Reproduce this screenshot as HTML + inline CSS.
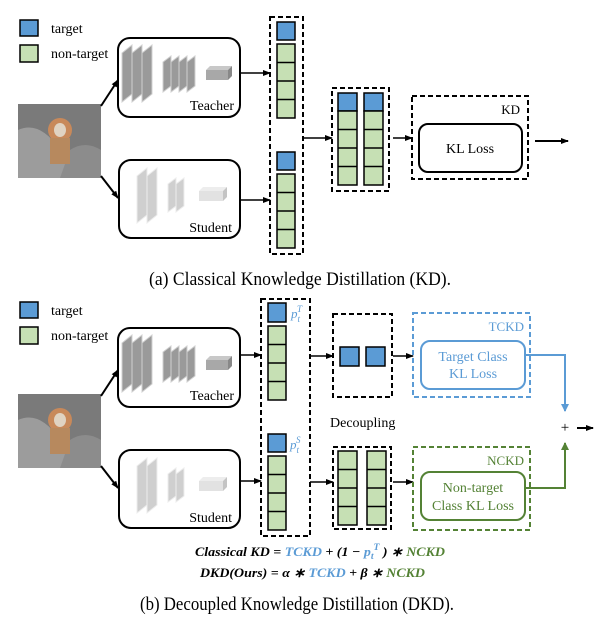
<!DOCTYPE html>
<html><head><meta charset="utf-8"><style>
html,body{margin:0;padding:0;background:#fff}
svg{display:block}
text{font-family:"Liberation Serif",serif}
</style></head><body>
<svg width="600" height="626" viewBox="0 0 600 626" xmlns="http://www.w3.org/2000/svg">
<defs>
<marker id="ah" markerWidth="8" markerHeight="6" refX="7" refY="3" orient="auto" markerUnits="userSpaceOnUse"><path d="M0,0 L8,3 L0,6 Z" fill="#000"/></marker>
<marker id="ab" markerWidth="8" markerHeight="8" refX="7" refY="4" orient="auto" markerUnits="userSpaceOnUse"><path d="M0,0 L8,4 L0,8 Z" fill="#5b9bd5"/></marker>
<marker id="ag" markerWidth="8" markerHeight="8" refX="7" refY="4" orient="auto" markerUnits="userSpaceOnUse"><path d="M0,0 L8,4 L0,8 Z" fill="#548235"/></marker>
<g id="tnet">
<g fill="#9a9a9a" stroke="#d0d0d0" stroke-width="1">
<polygon points="122,53 132,45 132,94 122,102"/>
<polygon points="132,53 142,45 142,94 132,102"/>
<polygon points="142,53 152,45 152,94 142,102"/>
<polygon points="163,62 171,56 171,86 163,92"/>
<polygon points="171,62 179,56 179,86 171,92"/>
<polygon points="179,62 187,56 187,86 179,92"/>
<polygon points="187,62 195,56 195,86 187,92"/>
</g>
<rect x="206" y="70" width="22" height="10" fill="#a8a8a8"/>
<polygon points="206,70 210,66 232,66 228,70" fill="#c8c8c8"/>
<polygon points="228,70 232,66 232,76 228,80" fill="#888"/>
</g>
<g id="snet">
<g fill="#cfcfcf" stroke="#ececec" stroke-width="1">
<polygon points="137,176 147,168 147,215 137,223"/>
<polygon points="147,176 157,168 157,215 147,223"/>
<polygon points="168,184 176,178 176,206 168,212"/>
<polygon points="176,184 184,178 184,206 176,212"/>
</g>
<rect x="199" y="191" width="24" height="10" fill="#e2e2e2"/>
<polygon points="199,191 203,187 227,187 223,191" fill="#ededed"/>
<polygon points="223,191 227,187 227,197 223,201" fill="#c4c4c4"/>
</g>
<g id="tiger">
<rect x="18" y="104" width="83" height="74" fill="#7a7a7a"/>
<path d="M18,130 Q40,120 60,150 L101,160 L101,178 L18,178 Z" fill="#9c9c9c"/>
<path d="M70,150 Q85,140 101,150 L101,178 L60,178 Z" fill="#8c8c8c"/>
<ellipse cx="60" cy="130" rx="12" ry="12" fill="#c8895a"/>
<rect x="50" y="138" width="20" height="26" fill="#b7895e"/>
<ellipse cx="60" cy="130" rx="6" ry="7" fill="#e0d3c2"/>
</g>
<g id="legend">
<rect x="20" y="20" width="18" height="16" fill="#5b9bd5" stroke="#000" stroke-width="1.5"/>
<rect x="20" y="45" width="18" height="17" fill="#c6e0b4" stroke="#000" stroke-width="1.5"/>
<text x="51" y="33" font-size="14">target</text>
<text x="51" y="58" font-size="14">non-target</text>
</g>
</defs>

<!-- ===== (a) ===== -->
<use href="#legend"/>
<use href="#tiger"/>
<line x1="101" y1="106" x2="118" y2="80" stroke="#000" stroke-width="2" marker-end="url(#ah)"/>
<line x1="101" y1="176" x2="118" y2="198" stroke="#000" stroke-width="2" marker-end="url(#ah)"/>
<rect x="118" y="38" width="122" height="79" rx="12" fill="#fff" stroke="#000" stroke-width="2"/>
<rect x="119" y="160" width="121" height="78" rx="12" fill="#fff" stroke="#000" stroke-width="2"/>
<use href="#tnet"/>
<use href="#snet"/>
<text x="234" y="110" font-size="14" text-anchor="end">Teacher</text>
<text x="232" y="232" font-size="14" text-anchor="end">Student</text>
<line x1="240" y1="73" x2="270" y2="73" stroke="#000" stroke-width="1.5" marker-end="url(#ah)"/>
<line x1="240" y1="200" x2="270" y2="200" stroke="#000" stroke-width="1.5" marker-end="url(#ah)"/>
<rect x="270" y="17" width="33" height="237" fill="none" stroke="#000" stroke-width="2" stroke-dasharray="5,3"/>
<g stroke="#000" stroke-width="1.5">
<rect x="277" y="22" width="18" height="18" fill="#5b9bd5"/>
<rect x="277" y="44" width="18" height="74" fill="#c6e0b4"/>
<line x1="277" y1="62.5" x2="295" y2="62.5"/><line x1="277" y1="81" x2="295" y2="81"/><line x1="277" y1="99.5" x2="295" y2="99.5"/>
<rect x="277" y="152" width="18" height="18" fill="#5b9bd5"/>
<rect x="277" y="174" width="18" height="74" fill="#c6e0b4"/>
<line x1="277" y1="192.5" x2="295" y2="192.5"/><line x1="277" y1="211" x2="295" y2="211"/><line x1="277" y1="229.5" x2="295" y2="229.5"/>
</g>
<line x1="303" y1="138" x2="332" y2="138" stroke="#000" stroke-width="1.5" marker-end="url(#ah)"/>
<rect x="332" y="88" width="57" height="103" fill="none" stroke="#000" stroke-width="2" stroke-dasharray="5,3"/>
<g stroke="#000" stroke-width="1.5">
<rect x="338" y="93" width="19" height="18" fill="#5b9bd5"/>
<rect x="338" y="111" width="19" height="74" fill="#c6e0b4"/>
<line x1="338" y1="129.5" x2="357" y2="129.5"/><line x1="338" y1="148" x2="357" y2="148"/><line x1="338" y1="166.5" x2="357" y2="166.5"/>
<rect x="364" y="93" width="19" height="18" fill="#5b9bd5"/>
<rect x="364" y="111" width="19" height="74" fill="#c6e0b4"/>
<line x1="364" y1="129.5" x2="383" y2="129.5"/><line x1="364" y1="148" x2="383" y2="148"/><line x1="364" y1="166.5" x2="383" y2="166.5"/>
</g>
<line x1="393" y1="138" x2="412" y2="138" stroke="#000" stroke-width="1.5" marker-end="url(#ah)"/>
<rect x="412" y="96" width="116" height="83" fill="none" stroke="#000" stroke-width="2" stroke-dasharray="5,3"/>
<text x="520" y="114" font-size="13" text-anchor="end">KD</text>
<rect x="419" y="124" width="103" height="48" rx="9" fill="#fff" stroke="#000" stroke-width="2"/>
<text x="470" y="153" font-size="14" text-anchor="middle">KL Loss</text>
<line x1="535" y1="141" x2="568" y2="141" stroke="#000" stroke-width="2" marker-end="url(#ah)"/>
<text x="300" y="285" font-size="19" text-anchor="middle" textLength="302" lengthAdjust="spacingAndGlyphs">(a) Classical Knowledge Distillation (KD).</text>

<!-- ===== (b) ===== -->
<g transform="translate(0,282)">
<use href="#legend"/>
</g>
<g transform="translate(0,290)">
<use href="#tiger"/>
<line x1="101" y1="106" x2="118" y2="80" stroke="#000" stroke-width="2" marker-end="url(#ah)"/>
<line x1="101" y1="176" x2="118" y2="198" stroke="#000" stroke-width="2" marker-end="url(#ah)"/>
<rect x="118" y="38" width="122" height="79" rx="12" fill="#fff" stroke="#000" stroke-width="2"/>
<rect x="119" y="160" width="121" height="78" rx="12" fill="#fff" stroke="#000" stroke-width="2"/>
<use href="#tnet"/>
<use href="#snet"/>
<text x="234" y="110" font-size="14" text-anchor="end">Teacher</text>
<text x="232" y="232" font-size="14" text-anchor="end">Student</text>
<line x1="240" y1="65" x2="261" y2="65" stroke="#000" stroke-width="1.5" marker-end="url(#ah)"/>
<line x1="240" y1="191" x2="261" y2="191" stroke="#000" stroke-width="1.5" marker-end="url(#ah)"/>
</g>
<rect x="261" y="299" width="49" height="237" fill="none" stroke="#000" stroke-width="2" stroke-dasharray="5,3"/>
<g stroke="#000" stroke-width="1.5">
<rect x="268" y="303" width="18" height="19" fill="#5b9bd5"/>
<rect x="268" y="326" width="18" height="74" fill="#c6e0b4"/>
<line x1="268" y1="344.5" x2="286" y2="344.5"/><line x1="268" y1="363" x2="286" y2="363"/><line x1="268" y1="381.5" x2="286" y2="381.5"/>
<rect x="268" y="434" width="18" height="18" fill="#5b9bd5"/>
<rect x="268" y="456" width="18" height="74" fill="#c6e0b4"/>
<line x1="268" y1="474.5" x2="286" y2="474.5"/><line x1="268" y1="493" x2="286" y2="493"/><line x1="268" y1="511.5" x2="286" y2="511.5"/>
</g>
<text x="291" y="318" font-size="13" font-style="italic" fill="#5b9bd5">p<tspan font-size="9" dy="4">t</tspan><tspan font-size="9" dx="-3" dy="-10">T</tspan></text>
<text x="290" y="449" font-size="13" font-style="italic" fill="#5b9bd5">p<tspan font-size="9" dy="4">t</tspan><tspan font-size="9" dx="-3" dy="-10">S</tspan></text>
<line x1="310" y1="356" x2="333" y2="356" stroke="#000" stroke-width="1.5" marker-end="url(#ah)"/>
<line x1="310" y1="482" x2="333" y2="482" stroke="#000" stroke-width="1.5" marker-end="url(#ah)"/>
<rect x="333" y="314" width="59" height="83" fill="none" stroke="#000" stroke-width="2" stroke-dasharray="5,3"/>
<rect x="340" y="347" width="19" height="19" fill="#5b9bd5" stroke="#000" stroke-width="1.5"/>
<rect x="366" y="347" width="19" height="19" fill="#5b9bd5" stroke="#000" stroke-width="1.5"/>
<rect x="333" y="447" width="58" height="82" fill="none" stroke="#000" stroke-width="2" stroke-dasharray="5,3"/>
<g stroke="#000" stroke-width="1.5">
<rect x="338" y="451" width="19" height="74" fill="#c6e0b4"/>
<line x1="338" y1="469.5" x2="357" y2="469.5"/><line x1="338" y1="488" x2="357" y2="488"/><line x1="338" y1="506.5" x2="357" y2="506.5"/>
<rect x="367" y="451" width="19" height="74" fill="#c6e0b4"/>
<line x1="367" y1="469.5" x2="386" y2="469.5"/><line x1="367" y1="488" x2="386" y2="488"/><line x1="367" y1="506.5" x2="386" y2="506.5"/>
</g>
<text x="330" y="427" font-size="14">Decoupling</text>
<line x1="393" y1="356" x2="413" y2="356" stroke="#000" stroke-width="1.5" marker-end="url(#ah)"/>
<line x1="393" y1="482" x2="413" y2="482" stroke="#000" stroke-width="1.5" marker-end="url(#ah)"/>
<rect x="413" y="313" width="117" height="84" fill="none" stroke="#5b9bd5" stroke-width="2" stroke-dasharray="5,3"/>
<text x="524" y="331" font-size="13" text-anchor="end" fill="#5b9bd5">TCKD</text>
<rect x="421" y="341" width="104" height="48" rx="9" fill="#fff" stroke="#5b9bd5" stroke-width="2"/>
<text x="473" y="361" font-size="14" text-anchor="middle" fill="#5b9bd5">Target Class</text>
<text x="473" y="378" font-size="14" text-anchor="middle" fill="#5b9bd5">KL Loss</text>
<rect x="413" y="447" width="117" height="83" fill="none" stroke="#548235" stroke-width="2" stroke-dasharray="5,3"/>
<text x="524" y="465" font-size="13" text-anchor="end" fill="#548235">NCKD</text>
<rect x="421" y="472" width="104" height="48" rx="9" fill="#fff" stroke="#548235" stroke-width="2"/>
<text x="473" y="492" font-size="14" text-anchor="middle" fill="#548235">Non-target</text>
<text x="473" y="510" font-size="14" text-anchor="middle" fill="#548235">Class KL Loss</text>
<polyline points="525,355 565,355 565,411" fill="none" stroke="#5b9bd5" stroke-width="2" marker-end="url(#ab)"/>
<polyline points="525,488 565,488 565,443" fill="none" stroke="#548235" stroke-width="2" marker-end="url(#ag)"/>
<text x="565" y="432" font-size="15" text-anchor="middle">+</text>
<line x1="577" y1="428" x2="593" y2="428" stroke="#000" stroke-width="2" marker-end="url(#ah)"/>
<text x="195" y="556" font-size="13" font-weight="bold" font-style="italic" textLength="250" lengthAdjust="spacingAndGlyphs">Classical KD = <tspan fill="#5b9bd5">TCKD</tspan> + (1 − <tspan fill="#5b9bd5">p<tspan font-size="9" dy="3">t</tspan><tspan font-size="9" dy="-9">T</tspan></tspan><tspan dy="6"> ) ∗ </tspan><tspan fill="#548235">NCKD</tspan></text>
<text x="200" y="577" font-size="13" font-weight="bold" font-style="italic" textLength="225" lengthAdjust="spacingAndGlyphs">DKD(Ours) = α ∗ <tspan fill="#5b9bd5">TCKD</tspan> + β ∗ <tspan fill="#548235">NCKD</tspan></text>
<text x="297" y="610" font-size="19" text-anchor="middle" textLength="314" lengthAdjust="spacingAndGlyphs">(b) Decoupled Knowledge Distillation (DKD).</text>
</svg>
</body></html>
